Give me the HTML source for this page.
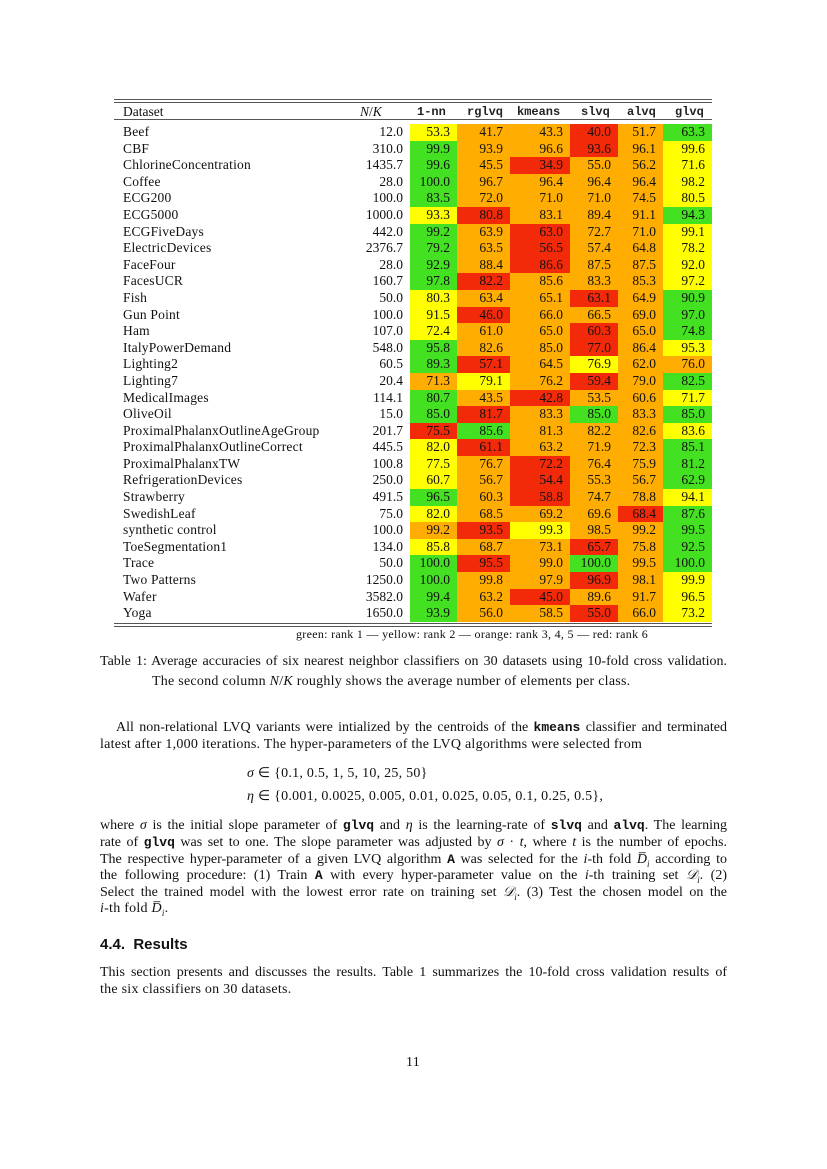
<!DOCTYPE html>
<html><head><meta charset="utf-8"><style>
body{margin:0;background:#fff;width:827px;height:1169px;position:relative;font-family:"Liberation Serif",serif;color:#111;overflow:hidden}
.rule{position:absolute;left:114px;width:598px;background:#555}
table{position:absolute;left:114px;top:124px;border-collapse:collapse;font-size:13.5px;table-layout:fixed;width:598px}
td{height:16.6px;padding:0;line-height:16.6px;white-space:nowrap}
td.n{text-align:right;padding-right:7px}
td.d{padding-left:9px;letter-spacing:0.2px}
.g{background:#44e022}.y{background:#ffff00}.o{background:#ffad00}.r{background:#f32a0a}
.hd{position:absolute;top:104px;font-size:13.5px}
.mono{font-family:"Liberation Mono",monospace;font-size:12px;font-weight:bold;color:#222}
.l{position:absolute;left:100px;width:627px;font-size:14px;text-align:justify;text-align-last:justify;white-space:nowrap}
.p{position:absolute;font-size:14px;white-space:nowrap;letter-spacing:0.25px}
.tt{font-family:"Liberation Mono",monospace;font-weight:bold;font-size:13px}
i{font-style:italic}
</style></head><body>
<div class="rule" style="top:99px;height:1px"></div>
<div class="rule" style="top:102px;height:1px"></div>
<div class="rule" style="top:119px;height:1px"></div>
<div class="hd" style="left:123px">Dataset</div>
<div class="hd" style="left:360px"><i>N</i>/<i>K</i></div>
<div class="hd mono" style="left:417px;top:105px">1-nn</div>
<div class="hd mono" style="left:467px;top:105px">rglvq</div>
<div class="hd mono" style="left:517px;top:105px">kmeans</div>
<div class="hd mono" style="left:581px;top:105px">slvq</div>
<div class="hd mono" style="left:627px;top:105px">alvq</div>
<div class="hd mono" style="left:675px;top:105px">glvq</div>
<table>
<colgroup><col style="width:226px"><col style="width:70px"><col style="width:47px"><col style="width:53px"><col style="width:60px"><col style="width:48px"><col style="width:45px"><col style="width:49px"></colgroup>
<tr><td class="d">Beef</td><td class="n">12.0</td><td class="n y">53.3</td><td class="n o">41.7</td><td class="n o">43.3</td><td class="n r">40.0</td><td class="n o">51.7</td><td class="n g">63.3</td></tr>
<tr><td class="d">CBF</td><td class="n">310.0</td><td class="n g">99.9</td><td class="n o">93.9</td><td class="n o">96.6</td><td class="n r">93.6</td><td class="n o">96.1</td><td class="n y">99.6</td></tr>
<tr><td class="d">ChlorineConcentration</td><td class="n">1435.7</td><td class="n g">99.6</td><td class="n o">45.5</td><td class="n r">34.9</td><td class="n o">55.0</td><td class="n o">56.2</td><td class="n y">71.6</td></tr>
<tr><td class="d">Coffee</td><td class="n">28.0</td><td class="n g">100.0</td><td class="n o">96.7</td><td class="n o">96.4</td><td class="n o">96.4</td><td class="n o">96.4</td><td class="n y">98.2</td></tr>
<tr><td class="d">ECG200</td><td class="n">100.0</td><td class="n g">83.5</td><td class="n o">72.0</td><td class="n o">71.0</td><td class="n o">71.0</td><td class="n o">74.5</td><td class="n y">80.5</td></tr>
<tr><td class="d">ECG5000</td><td class="n">1000.0</td><td class="n y">93.3</td><td class="n r">80.8</td><td class="n o">83.1</td><td class="n o">89.4</td><td class="n o">91.1</td><td class="n g">94.3</td></tr>
<tr><td class="d">ECGFiveDays</td><td class="n">442.0</td><td class="n g">99.2</td><td class="n o">63.9</td><td class="n r">63.0</td><td class="n o">72.7</td><td class="n o">71.0</td><td class="n y">99.1</td></tr>
<tr><td class="d">ElectricDevices</td><td class="n">2376.7</td><td class="n g">79.2</td><td class="n o">63.5</td><td class="n r">56.5</td><td class="n o">57.4</td><td class="n o">64.8</td><td class="n y">78.2</td></tr>
<tr><td class="d">FaceFour</td><td class="n">28.0</td><td class="n g">92.9</td><td class="n o">88.4</td><td class="n r">86.6</td><td class="n o">87.5</td><td class="n o">87.5</td><td class="n y">92.0</td></tr>
<tr><td class="d">FacesUCR</td><td class="n">160.7</td><td class="n g">97.8</td><td class="n r">82.2</td><td class="n o">85.6</td><td class="n o">83.3</td><td class="n o">85.3</td><td class="n y">97.2</td></tr>
<tr><td class="d">Fish</td><td class="n">50.0</td><td class="n y">80.3</td><td class="n o">63.4</td><td class="n o">65.1</td><td class="n r">63.1</td><td class="n o">64.9</td><td class="n g">90.9</td></tr>
<tr><td class="d">Gun Point</td><td class="n">100.0</td><td class="n y">91.5</td><td class="n r">46.0</td><td class="n o">66.0</td><td class="n o">66.5</td><td class="n o">69.0</td><td class="n g">97.0</td></tr>
<tr><td class="d">Ham</td><td class="n">107.0</td><td class="n y">72.4</td><td class="n o">61.0</td><td class="n o">65.0</td><td class="n r">60.3</td><td class="n o">65.0</td><td class="n g">74.8</td></tr>
<tr><td class="d">ItalyPowerDemand</td><td class="n">548.0</td><td class="n g">95.8</td><td class="n o">82.6</td><td class="n o">85.0</td><td class="n r">77.0</td><td class="n o">86.4</td><td class="n y">95.3</td></tr>
<tr><td class="d">Lighting2</td><td class="n">60.5</td><td class="n g">89.3</td><td class="n r">57.1</td><td class="n o">64.5</td><td class="n y">76.9</td><td class="n o">62.0</td><td class="n o">76.0</td></tr>
<tr><td class="d">Lighting7</td><td class="n">20.4</td><td class="n o">71.3</td><td class="n y">79.1</td><td class="n o">76.2</td><td class="n r">59.4</td><td class="n o">79.0</td><td class="n g">82.5</td></tr>
<tr><td class="d">MedicalImages</td><td class="n">114.1</td><td class="n g">80.7</td><td class="n o">43.5</td><td class="n r">42.8</td><td class="n o">53.5</td><td class="n o">60.6</td><td class="n y">71.7</td></tr>
<tr><td class="d">OliveOil</td><td class="n">15.0</td><td class="n g">85.0</td><td class="n r">81.7</td><td class="n o">83.3</td><td class="n g">85.0</td><td class="n o">83.3</td><td class="n g">85.0</td></tr>
<tr><td class="d">ProximalPhalanxOutlineAgeGroup</td><td class="n">201.7</td><td class="n r">75.5</td><td class="n g">85.6</td><td class="n o">81.3</td><td class="n o">82.2</td><td class="n o">82.6</td><td class="n y">83.6</td></tr>
<tr><td class="d">ProximalPhalanxOutlineCorrect</td><td class="n">445.5</td><td class="n y">82.0</td><td class="n r">61.1</td><td class="n o">63.2</td><td class="n o">71.9</td><td class="n o">72.3</td><td class="n g">85.1</td></tr>
<tr><td class="d">ProximalPhalanxTW</td><td class="n">100.8</td><td class="n y">77.5</td><td class="n o">76.7</td><td class="n r">72.2</td><td class="n o">76.4</td><td class="n o">75.9</td><td class="n g">81.2</td></tr>
<tr><td class="d">RefrigerationDevices</td><td class="n">250.0</td><td class="n y">60.7</td><td class="n o">56.7</td><td class="n r">54.4</td><td class="n o">55.3</td><td class="n o">56.7</td><td class="n g">62.9</td></tr>
<tr><td class="d">Strawberry</td><td class="n">491.5</td><td class="n g">96.5</td><td class="n o">60.3</td><td class="n r">58.8</td><td class="n o">74.7</td><td class="n o">78.8</td><td class="n y">94.1</td></tr>
<tr><td class="d">SwedishLeaf</td><td class="n">75.0</td><td class="n y">82.0</td><td class="n o">68.5</td><td class="n o">69.2</td><td class="n o">69.6</td><td class="n r">68.4</td><td class="n g">87.6</td></tr>
<tr><td class="d">synthetic control</td><td class="n">100.0</td><td class="n o">99.2</td><td class="n r">93.5</td><td class="n y">99.3</td><td class="n o">98.5</td><td class="n o">99.2</td><td class="n g">99.5</td></tr>
<tr><td class="d">ToeSegmentation1</td><td class="n">134.0</td><td class="n y">85.8</td><td class="n o">68.7</td><td class="n o">73.1</td><td class="n r">65.7</td><td class="n o">75.8</td><td class="n g">92.5</td></tr>
<tr><td class="d">Trace</td><td class="n">50.0</td><td class="n g">100.0</td><td class="n r">95.5</td><td class="n o">99.0</td><td class="n g">100.0</td><td class="n o">99.5</td><td class="n g">100.0</td></tr>
<tr><td class="d">Two Patterns</td><td class="n">1250.0</td><td class="n g">100.0</td><td class="n o">99.8</td><td class="n o">97.9</td><td class="n r">96.9</td><td class="n o">98.1</td><td class="n y">99.9</td></tr>
<tr><td class="d">Wafer</td><td class="n">3582.0</td><td class="n g">99.4</td><td class="n o">63.2</td><td class="n r">45.0</td><td class="n o">89.6</td><td class="n o">91.7</td><td class="n y">96.5</td></tr>
<tr><td class="d">Yoga</td><td class="n">1650.0</td><td class="n g">93.9</td><td class="n o">56.0</td><td class="n o">58.5</td><td class="n r">55.0</td><td class="n o">66.0</td><td class="n y">73.2</td></tr>
</table>
<div class="rule" style="top:623px;height:1px"></div>
<div class="rule" style="top:626px;height:1px"></div>
<div style="position:absolute;left:296px;top:627px;font-size:12px;letter-spacing:0.3px;white-space:nowrap">green: rank 1 — yellow: rank 2 — orange: rank 3, 4, 5 — red: rank 6</div>

<div class="l" style="top:654px">Table 1: Average accuracies of six nearest neighbor classifiers on 30 datasets using 10-fold cross validation.</div>
<div class="p" style="left:152px;top:674px">The second column <i>N</i>/<i>K</i> roughly shows the average number of elements per class.</div>

<div class="l" style="top:720px;left:116px;width:611px">All non-relational LVQ variants were intialized by the centroids of the <span class="tt">kmeans</span> classifier and terminated</div>
<div class="p" style="left:100px;top:737px">latest after 1,000 iterations. The hyper-parameters of the LVQ algorithms were selected from</div>
<div class="p" style="left:247px;top:765px"><i>σ</i> ∈ {0.1, 0.5, 1, 5, 10, 25, 50}</div>
<div class="p" style="left:247px;top:788px"><i>η</i> ∈ {0.001, 0.0025, 0.005, 0.01, 0.025, 0.05, 0.1, 0.25, 0.5},</div>

<div class="l" style="top:818px">where <i>σ</i> is the initial slope parameter of <span class="tt">glvq</span> and <i>η</i> is the learning-rate of <span class="tt">slvq</span> and <span class="tt">alvq</span>. The learning</div>
<div class="l" style="top:835px">rate of <span class="tt">glvq</span> was set to one. The slope parameter was adjusted by <i>σ</i> · <i>t</i>, where <i>t</i> is the number of epochs.</div>
<div class="l" style="top:852px">The respective hyper-parameter of a given LVQ algorithm <span class="tt">A</span> was selected for the <i>i</i>-th fold <i>D̅<sub style="font-size:9px">i</sub></i> according to</div>
<div class="l" style="top:868px">the following procedure: (1) Train <span class="tt">A</span> with every hyper-parameter value on the <i>i</i>-th training set <i>𝒟<sub style="font-size:9px">i</sub></i>. (2)</div>
<div class="l" style="top:885px">Select the trained model with the lowest error rate on training set <i>𝒟<sub style="font-size:9px">i</sub></i>. (3) Test the chosen model on the</div>
<div class="p" style="left:100px;top:901px"><i>i</i>-th fold <i>D̅<sub style="font-size:9px">i</sub></i>.</div>

<div style="position:absolute;left:100px;top:936px;font-family:'Liberation Sans',sans-serif;font-weight:bold;font-size:15px">4.4.&nbsp; Results</div>
<div class="l" style="top:965px">This section presents and discusses the results. Table 1 summarizes the 10-fold cross validation results of</div>
<div class="p" style="left:100px;top:982px">the six classifiers on 30 datasets.</div>
<div class="p" style="left:406px;top:1055px">11</div>
</body></html>
